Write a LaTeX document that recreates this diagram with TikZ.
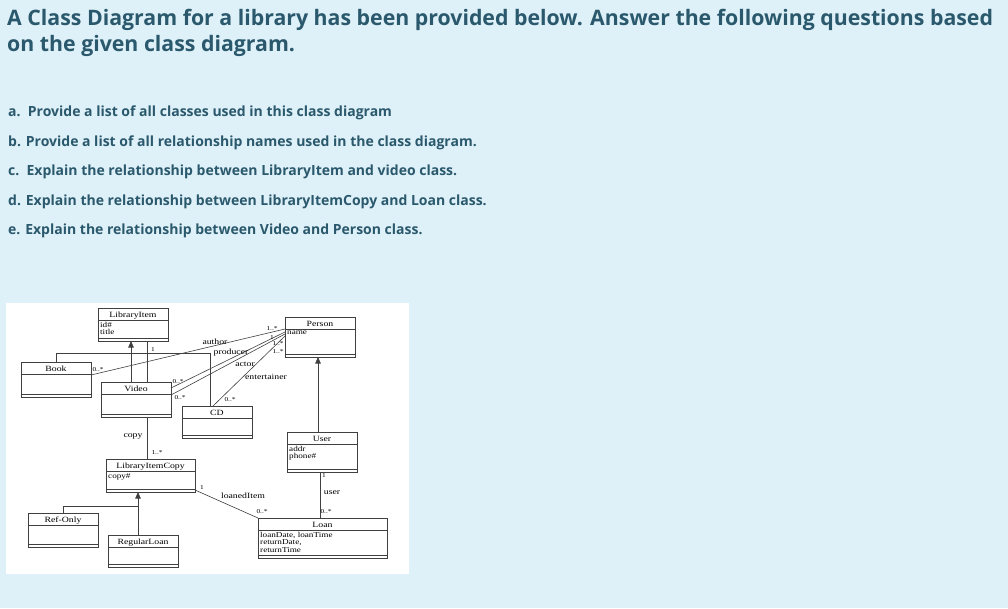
\documentclass[tikz,border=0pt]{standalone}
\usepackage{fontspec}
\setmainfont{Open Sans}
\newfontfamily\umlfont[FakeStretch=1.22]{Liberation Serif}
\usetikzlibrary{arrows.meta}
\usetikzlibrary{calc}
\usetikzlibrary{fit}
\usetikzlibrary{backgrounds}
\definecolor{pagebg}{RGB}{223,241,248}
\definecolor{headtext}{RGB}{42,88,108}

% class box: name, x1, y1, x2, y2, title, attributes
\newcommand{\umlclass}[7]{%
  \node[classbox, fit={(#2,#3) (#4,#5)}] (#1) {};
  \draw[umlline] ($(#1.north west)+(0,-12)$) -- ($(#1.north east)+(0,-12)$);
  \draw[umlline] ($(#1.south west)+(0,3)$) -- ($(#1.south east)+(0,3)$);
  \node[classname] (#1-name) at ($(#1.north)+(0,-9.5)$) {#6};
  \node[classattr] (#1-attr) at ($(#1.north west)+(2,-14)$) {#7};
}

\begin{document}
\begin{tikzpicture}[x=1pt, y=1pt,
    umlline/.style={draw=black!75, line width=0.6pt},
    classbox/.style={umlline, fill=white, inner sep=0pt, outer sep=0pt},
    classname/.style={font=\umlfont\fontsize{8}{8}\selectfont, inner sep=0pt, anchor=base},
    classattr/.style={font=\umlfont\fontsize{7.5}{7.3}\selectfont, inner sep=0pt, anchor=north west, align=left},
    inherit/.style={umlline, -{Triangle[width=5.5pt,length=6.5pt]}},
    mult/.style={font=\umlfont\fontsize{6}{6}\selectfont, inner sep=0pt},
    role/.style={font=\umlfont\fontsize{8}{8}\selectfont, inner sep=0pt},
    headline/.style={font=\bfseries\fontsize{21.3}{24}\selectfont, text=headtext, inner sep=0pt, anchor=base west},
    question/.style={font=\bfseries\fontsize{14}{16}\selectfont, text=headtext, inner sep=0pt, anchor=base west}]
      \useasboundingbox (0,0) rectangle (1008,-608);
      \begin{scope}[on background layer]
        \fill[pagebg] (0,0) rectangle (1008,-608);
        \fill[white] (6,-303) rectangle (409,-574);
      \end{scope}

      % heading and questions
      \node[headline] (title1) at (7,-25) {A Class Diagram for a library has been provided below. Answer the following questions based};
      \node[headline] (title2) at (7,-51) {on the given class diagram.};
      \node[question] (qa) at (8,-116) {a.~~Provide a list of all classes used in this class diagram};
      \node[question] (qb) at (8,-146) {b. Provide a list of all relationship names used in the class diagram.};
      \node[question] (qc) at (8,-175) {c.~~Explain the relationship between LibraryItem and video class.};
      \node[question] (qd) at (8,-205) {d. Explain the relationship between LibraryItemCopy and Loan class.};
      \node[question] (qe) at (8,-234) {e. Explain the relationship between Video and Person class.};

      % classes
      \umlclass{libitem}{98}{-308}{168}{-341}{LibraryItem}{id\#\\title}
      \umlclass{person}{285}{-317}{355}{-357}{Person}{name}
      \umlclass{book}{21}{-362}{91}{-397}{Book}{}
      \umlclass{video}{101}{-382}{171}{-417}{Video}{}
      \umlclass{cd}{182}{-406}{252}{-438}{CD}{}
      \umlclass{user}{287}{-432}{357}{-472}{User}{addr\\phone\#}
      \umlclass{licopy}{106}{-459}{195}{-492}{LibraryItemCopy}{copy\#}
      \umlclass{refonly}{28}{-513}{98}{-547}{Ref-Only}{}
      \umlclass{regloan}{108}{-535}{178}{-567}{RegularLoan}{}
      \umlclass{loan}{258}{-518}{387}{-558}{Loan}{loanDate, loanTime\\returnDate,\\returnTime}

      % generalisations
      \coordinate (treeLI) at (131,-353);
      \coordinate (treeCD) at (210,-353);
      \draw[umlline] (book.north) |- (treeCD) -- (treeCD |- cd.north);
      \draw[inherit] (treeLI |- video.north) -- (treeLI |- libitem.south);
      \coordinate (personX) at (318,0);
      \draw[inherit] (personX |- user.north) -- (personX |- person.south);
      \coordinate (treeRL) at (138,-506);
      \draw[umlline] (refonly.north) |- (treeRL);
      \draw[inherit] (treeRL |- regloan.north) -- (treeRL |- licopy.south);

      % associations
      \coordinate (copyX) at (147,0);
      \begin{scope}[on background layer]
        \draw[umlline] (copyX |- libitem.south) -- (copyX |- licopy.north);
      \end{scope}
      \draw[umlline] ([yshift=4.5pt]book.east) -- ([yshift=8pt]person.west);
      \draw[umlline] ([yshift=11.5pt]video.east) -- ([yshift=5pt]person.west);
      \draw[umlline] ([yshift=4.5pt]video.east) -- ([yshift=3pt]person.west);
      \draw[umlline] ([xshift=-4pt]cd.north) -- ([yshift=1pt]person.west);
      \draw[umlline] ([yshift=2pt]licopy.south east) -- (loan.north west);
      \coordinate (userX) at (320,0);
      \draw[umlline] (userX |- user.south) -- (userX |- loan.north);

      % role names and multiplicities
      \node[mult] (mBook) at (98,-370) {0..*};
      \node[role] (rAuthor) at (215,-342) {author};
      \node[mult] (mAuthor) at (272,-329) {1..*};
      \node[mult] (mVideoP) at (178,-382) {0..*};
      \node[role] (rProducer) at (231,-353) {producer};
      \node[mult] (mProducer) at (272,-338) {1};
      \node[mult] (mVideoA) at (180,-398) {0..*};
      \node[role] (rActor) at (245,-364) {actor};
      \node[mult] (mActor) at (278,-344) {1..*};
      \node[mult] (mCD) at (230,-400) {0..*};
      \node[role] (rEnt) at (266,-377) {entertainer};
      \node[mult] (mEnt) at (278,-352) {1..*};
      \node[mult] (mItem) at (153,-350) {1};
      \node[role] (rCopy) at (133,-436) {copy};
      \node[mult] (mCopy) at (157,-453) {1..*};
      \node[mult] (mLoanedA) at (202,-488) {1};
      \node[role] (rLoaned) at (243,-496) {loanedItem};
      \node[mult] (mLoanedB) at (262,-512) {0..*};
      \node[mult] (mUserA) at (324,-476) {1};
      \node[role] (rUser) at (332,-493) {user};
      \node[mult] (mUserB) at (326,-512) {0..*};
    \end{tikzpicture}
\end{document}
